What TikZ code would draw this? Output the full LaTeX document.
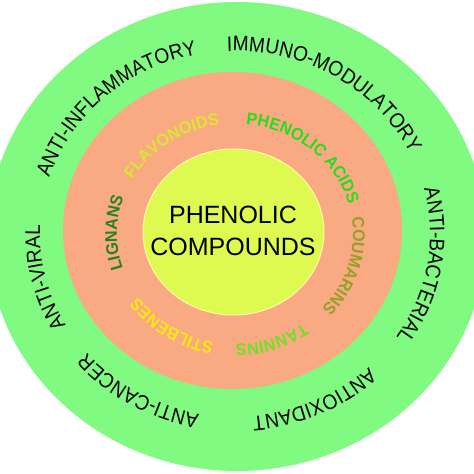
\documentclass[tikz,border=0pt]{standalone}
\usepackage{fontspec}
\setmainfont{Liberation Sans}
\newfontfamily\ringfont[FakeStretch=0.91]{Liberation Sans}
\newfontfamily\classfont[FakeStretch=0.95]{Liberation Sans}
\usetikzlibrary{shapes.geometric,decorations.text}

\definecolor{ringgreen}{RGB}{128,250,128}
\definecolor{ringsalmon}{RGB}{250,170,130}
\definecolor{coreyellow}{RGB}{222,250,80}
\definecolor{flavcol}{RGB}{218,230,50}
\definecolor{acidcol}{RGB}{40,220,30}
\definecolor{coumcol}{RGB}{150,160,40}
\definecolor{tanncol}{RGB}{110,225,40}
\definecolor{stilcol}{RGB}{250,232,20}
\definecolor{ligncol}{RGB}{40,130,30}

\begin{document}
\begin{tikzpicture}[
  x=1pt, y=1pt,
  ring/.style={ellipse, inner sep=0pt},
  outerlbl/.style={decorate, decoration={text along path, text align=center,
                   text={|\ringfont\fontsize{21}{24}\selectfont|#1}}},
  innerlbl/.style={decorate, decoration={text along path, text align=center,
                   text={|\classfont\fontsize{17}{20}\selectfont\bfseries\color{\labcol}|#1}}},
]
\useasboundingbox (0,0) rectangle (474,474);
\clip (0,0) rectangle (474,474);

% ---------------- rings -------------------------------------------------
\node[ring, fill=ringgreen, minimum width=498, minimum height=469] (outer) at (237,237.5) {};
\node[ring, fill=ringsalmon, minimum width=339, minimum height=317] (middle) at (232.5,243.5) {};
\node[ring, fill=coreyellow, draw=yellow!35!white, line width=1pt,
      minimum width=181, minimum height=166] (core) at (233.5,242) {};
\node[font=\fontsize{25}{32}\selectfont, align=center] (title) at (233,243)
  {PHENOLIC\\COMPOUNDS};

\coordinate (ctr) at (235,240);

% ---------------- activities (outer ring) -------------------------------
\foreach \ang/\lbl in {132.6/ANTI-INFLAMMATORY, 58.5/IMMUNO-MODULATORY,
                       -9.7/ANTI-BACTERIAL, -64.9/ANTIOXIDANT,
                       239/ANTI-CANCER, 193/ANTI-VIRAL} {
  \path[shift={(ctr)}, outerlbl/.expand once=\lbl]
    (\ang+60:195 and 183) arc[start angle=\ang+60, end angle=\ang-60,
                              x radius=195, y radius=183];
}

% ---------------- classes (middle ring) ---------------------------------
\foreach \ang/\lbl/\labcol in {124.6/FLAVONOIDS/flavcol, 49.6/PHENOLIC ACIDS/acidcol,
                               -16.7/COUMARINS/coumcol, -71.5/TANNINS/tanncol,
                               236.4/STILBENES/stilcol, 179.4/LIGNANS/ligncol} {
  \path[shift={(ctr)}, innerlbl/.expand once=\lbl]
    (\ang+50:118 and 110) arc[start angle=\ang+50, end angle=\ang-50,
                              x radius=118, y radius=110];
}

\end{tikzpicture}
\end{document}
